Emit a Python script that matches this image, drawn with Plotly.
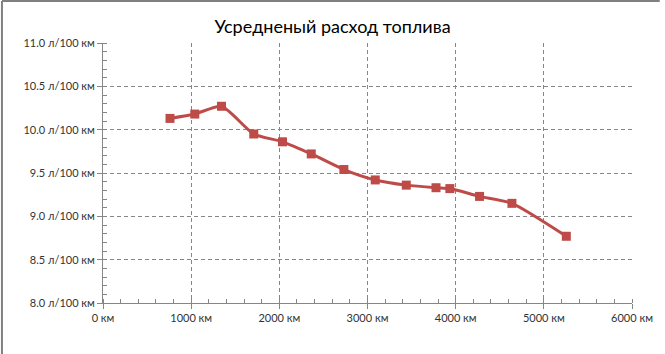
import plotly.graph_objects as go

distance_km = [760, 1041, 1344, 1710, 2036, 2362, 2732, 3088, 3440, 3777, 3934, 4271, 4638, 5255]
consumption = [10.13, 10.18, 10.27, 9.95, 9.86, 9.72, 9.54, 9.42, 9.36, 9.33, 9.32, 9.23, 9.15, 8.77]

title_text = "Усредненый расход топлива"
x_suffix = " км"
y_suffix = " л/100 км"

W, H = 665, 354
ML, MR, MT, MB = 103, 28, 43, 51
PW, PH = W - ML - MR, H - MT - MB

fig = go.Figure()
fig.add_trace(go.Scatter(
    x=distance_km, y=consumption, mode="lines+markers",
    line=dict(color="#BE4B48", width=3, shape="spline", smoothing=0.6),
    marker=dict(symbol="square", size=9, color="#BE4B48"),
    showlegend=False, hoverinfo="x+y",
))

axis_common = dict(
    showline=True, linecolor="#868686", linewidth=1,
    showgrid=True, gridcolor="#868686", griddash="4px,3px", gridwidth=1,
    zeroline=False, ticks="outside", ticklen=5, tickcolor="#868686",
    tickfont=dict(family="Lato, Open Sans, sans-serif", size=11, color="#333333"),
    fixedrange=True,
)

fig.update_xaxes(
    range=[0, 6000], dtick=1000, tick0=0, ticksuffix=x_suffix,
    minor=dict(dtick=200, ticks="inside", ticklen=4, tickcolor="#868686", showgrid=False),
    **axis_common,
)
fig.update_yaxes(
    range=[8.0, 11.0], dtick=0.5, tick0=8.0, tickformat=".1f", ticksuffix=y_suffix,
    minor=dict(dtick=0.1, ticks="inside", ticklen=4, tickcolor="#868686", showgrid=False),
    **axis_common,
)

fig.update_layout(
    width=W, height=H,
    margin=dict(l=ML, r=MR, t=MT, b=MB, pad=0),
    paper_bgcolor="white", plot_bgcolor="white",
    title=dict(text=title_text, x=0.5, xanchor="center", y=1 - 27 / H, yanchor="middle",
               font=dict(family="Lato, Open Sans, sans-serif", size=18, color="#000000")),
    shapes=[
        dict(type="line", xref="paper", yref="paper",
             x0=(1 - ML) / PW, x1=(1 - ML) / PW, y0=-(MB) / PH, y1=1 + (MT - 1) / PH,
             line=dict(color="#808080", width=2)),
        dict(type="line", xref="paper", yref="paper",
             x0=(1 - ML) / PW, x1=1 + MR / PW, y0=1 + (MT - 1) / PH, y1=1 + (MT - 1) / PH,
             line=dict(color="#808080", width=2)),
    ],
)

fig.write_html("out.html")
